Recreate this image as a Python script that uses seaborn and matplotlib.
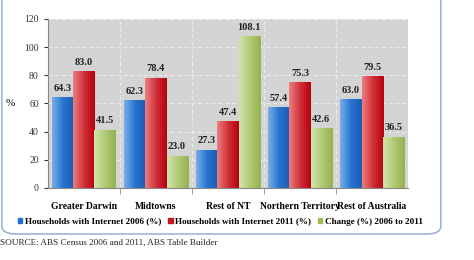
import matplotlib
matplotlib.use("Agg")
import matplotlib.pyplot as plt
import numpy as np
import pandas as pd
import seaborn as sns
from matplotlib.colors import LinearSegmentedColormap
from matplotlib.patches import FancyBboxPatch

regions = ["Greater Darwin", "Midtowns", "Rest of NT", "Northern Territory", "Rest of Australia"]
series = ["Households with Internet 2006 (%)", "Households with Internet 2011 (%)", "Change (%) 2006 to 2011"]
internet_2006 = [64.3, 62.3, 27.3, 57.4, 63.0]
internet_2011 = [83.0, 78.4, 47.4, 75.3, 79.5]
change = [41.5, 23.0, 108.1, 42.6, 36.5]
yticks = [0, 20, 40, 60, 80, 100, 120]

colors = ["#1f6fcf", "#c8161e", "#9bbb59"]
grads = [("#7aaee6", "#2775d2", "#1a5cb0"),
         ("#ec8080", "#d0303a", "#b8000e"),
         ("#d3e4aa", "#b0cb76", "#93b24f")]

df = pd.DataFrame({
    "region": regions * 3,
    "series": np.repeat(series, len(regions)),
    "value": internet_2006 + internet_2011 + change,
})

plt.rcParams["font.family"] = ["Liberation Serif", "DejaVu Serif"]
plt.rcParams["font.weight"] = "bold"

fig = plt.figure(figsize=(4.74, 2.60), dpi=100)
border = FancyBboxPatch((0.004, 0.1), 0.926, 0.93, boxstyle="round,pad=0,rounding_size=0.03",
                        transform=fig.transFigure, facecolor="white", edgecolor="#8ea6cf",
                        linewidth=1.0, figure=fig, zorder=-5)
fig.patches.append(border)
ax = fig.add_axes([0.101, 0.277, 0.76, 0.65])
ax.set_facecolor("#d4d4d4")

sns.barplot(data=df, x="region", y="value", hue="series", palette=colors, width=0.88,
            ax=ax, legend=True, saturation=1)

# gradient fill on bars
for cont, (c0, c1, c2) in zip(ax.containers, grads):
    cmap = LinearSegmentedColormap.from_list("g", [c0, c1, c2])
    grad = np.linspace(0, 1, 64).reshape(1, -1)
    for bar in cont:
        x0, y0 = bar.get_x(), bar.get_y()
        w, h = bar.get_width(), bar.get_height()
        bar.set_facecolor("none")
        bar.set_edgecolor("none")
        im = ax.imshow(grad, cmap=cmap, aspect="auto", extent=[x0, x0 + w, y0, y0 + h],
                       zorder=2, interpolation="bicubic")
        im.set_clip_path(bar)
    ax.bar_label(cont, fmt="%.1f", padding=3, fontsize=7.5, fontweight="bold", color="#222222")

ax.set_xlim(-0.5, 4.5)
ax.set_ylim(0, 120)
ax.set_yticks(yticks)
ax.tick_params(axis="y", labelsize=7, length=3, colors="#333333")
ax.tick_params(axis="x", labelsize=6.9, length=0, pad=10)
for lab in ax.get_yticklabels():
    lab.set_fontweight("normal")
ax.set_xticks(range(len(regions)))
ax.set_xticklabels(regions, fontweight="bold")
ax.set_xlabel("")
ax.set_ylabel("%", rotation=0, fontsize=8, labelpad=10, va="center")
ax.yaxis.grid(True, color="#ececec", linestyle=(0, (4, 3)), linewidth=0.7)
ax.set_xticks([0.5, 1.5, 2.5, 3.5], minor=True)
ax.xaxis.grid(True, which="minor", color="#ececec", linestyle=(0, (4, 3)), linewidth=0.7)
ax.tick_params(axis="x", which="minor", length=4, color="#888888")
ax.set_axisbelow(True)
for s in ["top", "right"]:
    ax.spines[s].set_visible(False)
ax.spines["left"].set_color("#888888")
ax.spines["bottom"].set_color("#888888")

handles, labels = ax.get_legend_handles_labels()
ax.legend_.remove()
leg = fig.legend(handles, labels, loc="center", bbox_to_anchor=(0.465, 0.148), ncol=3,
                 frameon=False, fontsize=6.6, handlelength=0.45, handleheight=0.45,
                 handletextpad=0.25, columnspacing=0.8)
for h, c in zip(leg.legend_handles, colors):
    h.set_facecolor(c)
    h.set_edgecolor(c)

fig.text(0.0, 0.066, "SOURCE: ABS Census 2006 and 2011, ABS Table Builder", fontsize=6.6,
         fontweight="normal", va="center", color="#222222")

fig.savefig("out.png", dpi=100)
